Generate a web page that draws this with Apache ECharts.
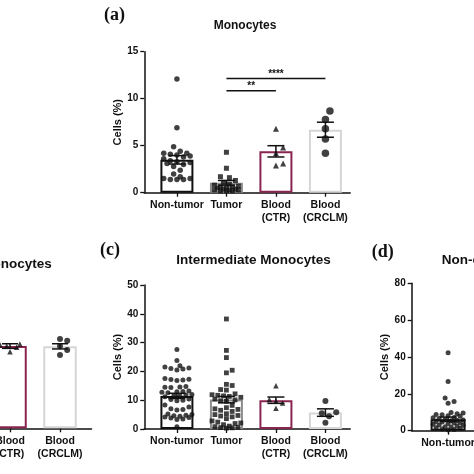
<!DOCTYPE html>
<html><head><meta charset="utf-8">
<script src="https://cdn.jsdelivr.net/npm/echarts@6/dist/echarts.min.js"></script>
<style>html,body{margin:0;padding:0;background:#fff}#c{width:474px;height:474px}</style>
</head><body><div id="c"></div>
<script>
// ---------- data ----------
const categories = ['Non-tumor', 'Tumor', 'Blood\n(CTR)', 'Blood\n(CRCLM)'];

// (a) Monocytes
const aNonTumor = [12.1, 6.9, 4.9, 4.4, 4.2, 4.2, 4.1, 4.0, 3.9, 3.8, 3.6, 3.4, 3.3, 3.2, 3.1, 3.0, 2.8, 2.4, 2.0, 1.7, 1.5, 1.4, 1.4, 1.4, 1.5];
const aTumor = [4.3, 2.6, 1.7, 1.6, 1.3, 1.1, 0.9, 0.8, 0.7, 0.6, 0.6, 0.5, 0.5, 0.4, 0.4, 0.3, 0.3, 0.3, 0.2, 0.2, 0.2];
const aCTR = [6.8, 4.8, 4.2, 3.1, 2.9];
const aCRCLM = [8.7, 7.8, 6.8, 5.7, 4.2];
const aMean = [3.5, 1.05, 4.4, 6.7];
const aSem = [0.45, 0.25, 0.6, 0.8];
const sigFrom = [1, 1];
const sigTo = [2, 3];
const sigY = [10.85, 12.15];
const sigLabel = ['**', '****'];

// (b) Classical Monocytes (only blood groups visible)
const bCTR = [58.5, 57.7, 57.0, 56.2, 53.1];
const bCRCLM = [61.9, 60.7, 57.0, 54.3, 50.8];
const bMean = [57.0, 56.8];
const bSem = [1.6, 1.8];

// (c) Intermediate Monocytes
const cNonTumor = [27.6, 23.8, 22.0, 21.5, 21.2, 21.0, 20.8, 20.5, 17.5, 17.3, 17.2, 17.0, 16.8, 14.8, 14.6, 14.5, 14.4, 13.2, 13.0, 12.9, 12.8, 12.6, 12.0, 11.8, 11.6, 11.5, 11.2, 10.4, 10.2, 10.0, 9.8, 8.3, 7.6, 7.0, 6.8, 6.6, 5.2, 5.0, 4.8, 4.6, 4.4, 4.2, 4.0, 3.8, 3.5, 3.3, 0.8];
const cTumor = [38.2, 27.3, 24.8, 20.4, 19.5, 15.5, 15.1, 13.7, 13.5, 12.2, 11.9, 11.7, 11.5, 11.3, 11.0, 10.4, 10.1, 9.8, 9.6, 8.2, 7.4, 7.0, 6.8, 6.5, 6.1, 5.3, 5.0, 4.7, 4.5, 4.2, 3.6, 2.8, 2.4, 2.1, 1.9, 1.5, 1.0, 0.8, 0.6, 0.5, 0.4, 0.3];
const cCTR = [15.0, 10.2, 9.6, 9.0, 7.2];
const cCRCLM = [9.7, 5.8, 5.5, 4.4, 2.2];
const cMean = [11.5, 10.2, 10.0, 5.7];
const cSem = [0.9, 1.1, 1.1, 1.3];

// (d) Non-classical Monocytes (only Non-tumor visible)
const dNonTumor = [42.3, 26.7, 17.7, 15.9, 14.9, 9.9, 9.6, 9.2, 8.8, 8.6, 8.1, 7.9, 7.2, 7.0, 6.6, 6.1, 5.8, 5.5, 5.4, 5.0, 4.7, 4.4, 4.2, 3.9, 3.5, 3.1, 3.0, 2.6, 2.2, 2.0, 1.6, 1.3, 0.9, 0.7, 0.4];
const dMean = [6.2];
const dSem = [1.2];

// ---------- styling ----------
const INK = '#111';
const barColors = ['#111111', '#8c8c8c', '#8a2552', '#d6d6d6'];
const FONT = '"Liberation Sans", Arial, sans-serif';
const SERIF = '"Liberation Serif", "Times New Roman", serif';

const panels = [
  {left: 144.25, top: 51.7, height: 141, band: 49.5, min: -0.66, max: 3.5, ymax: 15, yint: 5, showY: true},
  {left: -123, top: 284, height: 144.3, band: 50, min: -0.66, max: 3.63, ymax: 100, yint: 20, showY: false},
  {left: 144.25, top: 285, height: 144, band: 49.5, min: -0.66, max: 3.5, ymax: 50, yint: 10, showY: true},
  {left: 411.7, top: 283.3, height: 147.4, band: 52, min: -0.7, max: 3.5, ymax: 80, yint: 20, showY: true}
];

// beeswarm layout (horizontal spread only, values untouched)
function swarm(vals, cat, p, size, halfW) {
  const pxX = p.band, pxY = p.height / p.ymax;
  const placed = [], out = [];
  const order = vals.map((v, i) => i).sort((a, b) => vals[a] - vals[b]);
  for (const i of order) {
    const py = vals[i] * pxY;
    let best = 0, bestD = -1;
    for (let k = 0; k <= 40; k++) {
      const dx = (k % 2 ? 1 : -1) * Math.ceil(k / 2) * size * 0.6;
      if (Math.abs(dx) > halfW) continue;
      let minD = Infinity;
      for (const q of placed) {
        const d = Math.hypot(dx - q[0], py - q[1]);
        if (d < minD) minD = d;
      }
      if (minD >= size * 1.15) { best = dx; bestD = Infinity; break; }
      if (minD > bestD) { bestD = minD; best = dx; }
    }
    placed.push([best, py]);
    out.push([cat + best / pxX, vals[i]]);
  }
  return out;
}

const grid = panels.map(p => ({
  left: p.left, top: p.top, height: p.height,
  width: (p.max - p.min) * p.band, containLabel: false, outerBoundsMode: 'none'
}));

const xAxis = panels.map((p, gi) => ({
  type: 'value', gridIndex: gi, min: p.min, max: p.max,
  axisLine: {show: true, onZero: false, lineStyle: {color: INK, width: 1.5}},
  axisTick: {show: true, customValues: [0, 1, 2, 3], length: 4, lineStyle: {color: INK, width: 1.3}},
  axisLabel: {
    show: true, customValues: [0, 1, 2, 3], formatter: v => categories[Math.round(v)],
    color: INK, fontFamily: FONT, fontWeight: 'bold', fontSize: 10.5, lineHeight: 13, margin: 6
  },
  splitLine: {show: false}
}));

const yAxis = panels.map((p, gi) => ({
  type: 'value', gridIndex: gi, min: 0, max: p.ymax, interval: p.yint,
  show: p.showY,
  name: 'Cells (%)', nameLocation: 'middle', nameGap: 20,
  nameTextStyle: {color: INK, fontFamily: FONT, fontWeight: 'bold', fontSize: 11},
  axisLine: {show: true, onZero: false, lineStyle: {color: INK, width: 1.5}},
  axisTick: {show: true, length: 4, lineStyle: {color: INK, width: 1.3}},
  axisLabel: {color: INK, fontFamily: FONT, fontWeight: 'bold', fontSize: 10, margin: 6},
  splitLine: {show: false}
}));

const series = [];

function addBars(gi, idxs, means, width) {
  series.push({
    type: 'bar', xAxisIndex: gi, yAxisIndex: gi, barWidth: width, z: 1,
    data: idxs.map((c, k) => ({
      value: [c, means[k]],
      itemStyle: {color: '#fff', borderColor: barColors[c], borderWidth: 2}
    }))
  });
}
function addDots(gi, cat, vals, symbol, size, halfW) {
  series.push({
    type: 'scatter', xAxisIndex: gi, yAxisIndex: gi, symbol: symbol, symbolSize: size, z: 3,
    itemStyle: {color: INK},
    data: swarm(vals, cat, panels[gi], size, halfW)
  });
}
function addErr(gi, idxs, means, sems, capHalf) {
  series.push({
    type: 'custom', xAxisIndex: gi, yAxisIndex: gi, z: 5,
    data: idxs.map((c, k) => [c, means[k], sems[k]]),
    encode: {x: 0, y: 1},
    renderItem: (params, api) => {
      const x = api.value(0), m = api.value(1), s = api.value(2);
      const t = api.coord([x, m + s]), b = api.coord([x, m - s]);
      const st = {stroke: INK, lineWidth: 1.5};
      return {type: 'group', children: [
        {type: 'line', shape: {x1: t[0], y1: t[1], x2: b[0], y2: b[1]}, style: st},
        {type: 'line', shape: {x1: t[0] - capHalf, y1: t[1], x2: t[0] + capHalf, y2: t[1]}, style: st},
        {type: 'line', shape: {x1: b[0] - capHalf, y1: b[1], x2: b[0] + capHalf, y2: b[1]}, style: st}
      ]};
    }
  });
}

// panel (a)
addBars(0, [0, 1, 2, 3], aMean, 33);
addDots(0, 0, aNonTumor, 'circle', 5.5, 14);
addDots(0, 1, aTumor, 'rect', 5, 14);
addDots(0, 2, aCTR, 'triangle', 6, 12);
addDots(0, 3, aCRCLM, 'circle', 7.5, 12);
addErr(0, [0, 1, 2, 3], aMean, aSem, 8.5);
series.push({
  type: 'custom', xAxisIndex: 0, yAxisIndex: 0, z: 6,
  data: sigFrom.map((f, k) => [f, sigTo[k], sigY[k]]),
  encode: {x: [0, 1], y: 2},
  renderItem: (params, api) => {
    const p1 = api.coord([api.value(0), api.value(2)]);
    const p2 = api.coord([api.value(1), api.value(2)]);
    return {type: 'group', children: [
      {type: 'line', shape: {x1: p1[0], y1: p1[1], x2: p2[0], y2: p2[1]}, style: {stroke: INK, lineWidth: 1.5}},
      {type: 'text', x: (p1[0] + p2[0]) / 2, y: p1[1] + 1,
       style: {text: sigLabel[params.dataIndex], fill: INK, fontFamily: FONT, fontWeight: 'bold', fontSize: 10,
               align: 'center', verticalAlign: 'bottom', textAlign: 'center', textVerticalAlign: 'bottom'}}
    ]};
  }
});

// panel (b)
addBars(1, [2, 3], bMean, 33.5);
addDots(1, 2, bCTR, 'triangle', 5.5, 12);
addDots(1, 3, bCRCLM, 'circle', 6, 12);
addErr(1, [2, 3], bMean, bSem, 8);

// panel (c)
addBars(2, [0, 1, 2, 3], cMean, 33);
addDots(2, 0, cNonTumor, 'circle', 5, 16);
addDots(2, 1, cTumor, 'rect', 4.8, 16);
addDots(2, 2, cCTR, 'triangle', 5.5, 12);
addDots(2, 3, cCRCLM, 'circle', 6, 12);
addErr(2, [0, 1, 2, 3], cMean, cSem, 8.5);

// panel (d)
addBars(3, [0], dMean, 35);
addDots(3, 0, dNonTumor, 'circle', 5, 17);
addErr(3, [0], dMean, dSem, 8.5);

function txt(text, x, y, size, align, family) {
  return {type: 'text', x: x, y: y, z: 10,
    style: {text: text, fill: INK, fontFamily: family || FONT, fontWeight: 'bold', fontSize: size,
            align: align, verticalAlign: 'middle', textAlign: align, textVerticalAlign: 'middle'}};
}

const option = {
  animation: false,
  backgroundColor: '#fff',
  grid: grid, xAxis: xAxis, yAxis: yAxis, series: series,
  graphic: [
    txt('(a)', 104, 15.5, 18, 'left', SERIF),
    txt('Monocytes', 245, 25.5, 12, 'center'),
    txt('Classical Monocytes', 51.7, 264, 13.5, 'right'),
    txt('(c)', 100, 250, 18, 'left', SERIF),
    txt('Intermediate Monocytes', 253.5, 260.5, 13.5, 'center'),
    txt('(d)', 371.7, 252.7, 18, 'left', SERIF),
    txt('Non-classical Monocytes', 441.7, 260, 13.5, 'left')
  ]
};
echarts.init(document.getElementById('c')).setOption(option);
</script></body></html>
